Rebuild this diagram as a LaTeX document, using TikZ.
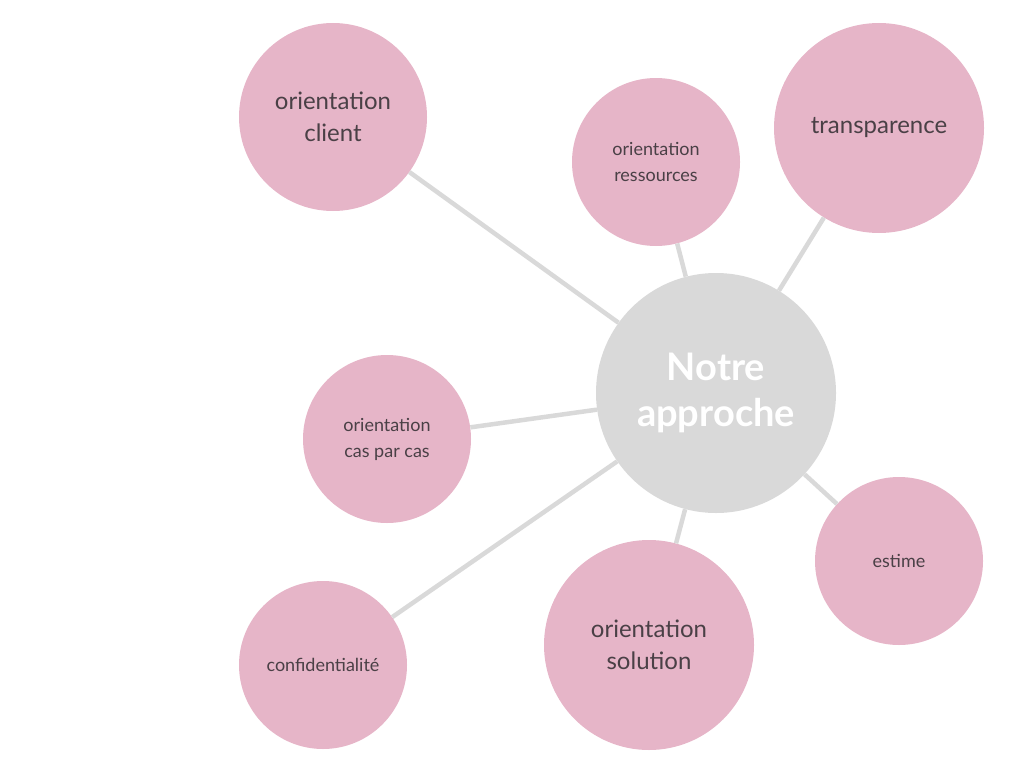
\documentclass[tikz,border=0pt]{standalone}
\usepackage{fontspec}
\setmainfont{Lato}
\definecolor{pinkc}{HTML}{E6B5C8}
\definecolor{grayc}{HTML}{D9D9D9}
\definecolor{txt}{HTML}{4A4046}
\begin{document}
\begin{tikzpicture}[x=1pt,y=-1pt,
  bub/.style={circle,fill=pinkc,text=txt,align=center,inner sep=0pt},
  link/.style={grayc,line width=4.5pt}]
\useasboundingbox (0,0) rectangle (1024,768);
\node[circle,fill=grayc,minimum size=240pt,text=white,align=center,font=\fontsize{38}{46}\selectfont\bfseries] (c) at (716,393) {Notre\\approche};
\node[bub,minimum size=188pt,font=\fontsize{24}{32}\selectfont] (a) at (333,117) {orientation\\client};
\node[bub,minimum size=168pt,font=\fontsize{18}{26}\selectfont] (b) at (656,162) {orientation\\ressources};
\node[bub,minimum size=210pt,font=\fontsize{24}{32}\selectfont] (t) at (879,128) {transparence};
\node[bub,minimum size=168pt,font=\fontsize{18}{26}\selectfont] (d) at (387,439) {orientation\\cas par cas};
\node[bub,minimum size=168pt,font=\fontsize{18}{26}\selectfont] (e) at (899,561) {estime};
\node[bub,minimum size=210pt,font=\fontsize{24}{32}\selectfont] (s) at (649,645) {orientation\\solution};
\node[bub,minimum size=168pt,font=\fontsize{18}{26}\selectfont] (f) at (323,665) {confidentialité};
\begin{scope}[on background layer/.style={}]
\end{scope}
\foreach \n in {a,b,t,d,e,s,f}{\draw[link] (c) -- (\n);}
\end{tikzpicture}
\end{document}
